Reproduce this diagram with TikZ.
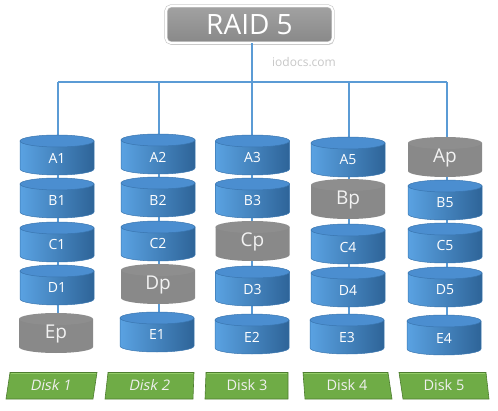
\documentclass[tikz,border=0pt]{standalone}
\usepackage{fontspec}
\setmainfont{Open Sans}
\usetikzlibrary{shadows,backgrounds}
\definecolor{cylL}{HTML}{5AA2E2}
\definecolor{cylR}{HTML}{2E6498}
\definecolor{cylTop}{HTML}{4B8ED0}
\definecolor{cylEdge}{HTML}{3A76B0}
\definecolor{parity}{HTML}{898989}
\definecolor{parityTop}{HTML}{8E8E8E}
\definecolor{wire}{HTML}{5B9BD5}
\definecolor{diskG}{HTML}{6FAC46}
\definecolor{diskHi}{HTML}{93CC68}
\definecolor{diskLo}{HTML}{4E7D30}
\definecolor{titleA}{HTML}{A2A2A2}
\definecolor{titleB}{HTML}{888888}
\tikzset{
  bluelbl/.style={text=white, font=\fontsize{14}{16}\selectfont, inner sep=0pt},
  graylbl/.style={text=white!95!black, font=\fontsize{19}{21}\selectfont, inner sep=0pt},
  wireline/.style={draw=wire, line width=1.6pt},
  disklbl/.style={text=white!94!black, font=\fontsize{14.5}{16}\selectfont, inner sep=0pt},
  diskbox/.style={fill=diskG, draw=diskLo, line width=0.6pt},
  diskhi/.style={draw=diskHi, line width=1pt},
}
\newcommand\bluecyl[4]{%
  \path[shade, left color=cylL, right color=cylR, draw=cylEdge, line width=0.5pt]
    ({#2-37},{404-#3}) -- ({#2-37},{376-#3})
    arc[start angle=180,end angle=360,x radius=37pt,y radius=6pt]
    -- ({#2+37},{404-#3}) -- cycle;
  \path[fill=cylTop, draw=cylEdge, line width=0.5pt] (#2,{404-#3}) ellipse[x radius=37pt, y radius=6pt];
  \node[bluelbl] (#1) at (#2,{387-#3}) {#4};
}
\newcommand\graycyl[4]{%
  \path[fill=parity]
    ({#2-37},{404-#3}) -- ({#2-37},{376-#3})
    arc[start angle=180,end angle=360,x radius=37pt,y radius=6pt]
    -- ({#2+37},{404-#3}) -- cycle;
  \path[fill=parityTop] (#2,{404-#3}) ellipse[x radius=37pt, y radius=6pt];
  \node[graylbl] (#1) at (#2,{389-#3}) {#4};
}
\begin{document}
\begin{tikzpicture}[x=1pt,y=1pt]
\useasboundingbox (0,0) rectangle (498,410);
% title
\node[draw=black!22, double=white, double distance=2pt, line width=0.6pt,
      rounded corners=5pt, top color=titleA, bottom color=titleB,
      minimum width=167pt, minimum height=37pt, inner sep=0pt,
      text=white, font=\fontsize{28}{30}\selectfont,
      drop shadow={opacity=0.35, shadow xshift=1pt, shadow yshift=-2pt}]
      (raid) at (249.5,385.5) {RAID 5};
\node[text=black!22, font=\fontsize{12}{14}\selectfont, inner sep=0pt] (wm) at (304,348) {iodocs.com};
% bus
\coordinate (hub) at (252,328);
\coordinate (b1) at (58,328);
\coordinate (b2) at (159,328);
\coordinate (b3) at (252,328);
\coordinate (b4) at (349,328);
\coordinate (b5) at (447,328);
\draw[wireline, line width=2pt] (b1) -- (b5);
\draw[wireline, line width=2pt] (hub |- raid.south) -- (hub);
% column 1
\bluecyl{c1a}{57}{135}{A1}
\bluecyl{c1b}{57}{178}{B1}
\bluecyl{c1c}{57}{222}{C1}
\bluecyl{c1d}{57}{265}{D1}
\graycyl{c1e}{56}{313}{Ep}
% column 2
\bluecyl{c2a}{158}{134}{A2}
\bluecyl{c2b}{158}{177}{B2}
\bluecyl{c2c}{158}{221}{C2}
\graycyl{c2d}{158}{264}{Dp}
\bluecyl{c2e}{157}{312}{E1}
% column 3
\bluecyl{c3a}{252.5}{135}{A3}
\bluecyl{c3b}{252.5}{178}{B3}
\graycyl{c3c}{252.5}{221}{Cp}
\bluecyl{c3d}{252.5}{266}{D3}
\bluecyl{c3e}{252}{314}{E2}
% column 4
\bluecyl{c4a}{348}{137}{A5}
\graycyl{c4b}{348}{179}{Bp}
\bluecyl{c4c}{348}{224}{C4}
\bluecyl{c4d}{348}{267}{D4}
\bluecyl{c4e}{347}{314}{E3}
% column 5
\graycyl{c5a}{445}{137}{Ap}
\bluecyl{c5b}{445}{180}{B5}
\bluecyl{c5c}{445}{223}{C5}
\bluecyl{c5d}{445}{267}{D5}
\bluecyl{c5e}{444}{315}{E4}
% spines behind
\begin{scope}[on background layer]
\draw[wireline, line width=1.4pt] (b1) -- (b1 |- c1e);
\draw[wireline, line width=1.4pt] (b2) -- (b2 |- c2e);
\draw[wireline, line width=1.4pt] (b3) -- (b3 |- c3e);
\draw[wireline, line width=1.4pt] (b4) -- (b4 |- c4e);
\draw[wireline, line width=1.4pt] (b5) -- (b5 |- c5e);
\end{scope}
% disk labels
\path[diskbox] (10,37.5) -- (97,37.5) -- (93,11) -- (6,11) -- cycle;
\draw[diskhi] (11,36.5) -- (96,36.5);
\node[disklbl, xslant=0.2] (d1) at (51.5,24.5) {Disk 1};
\path[diskbox] (108,37.5) -- (194,37.5) -- (193,11) -- (105,11) -- cycle;
\draw[diskhi] (109,36.5) -- (193,36.5);
\node[disklbl, xslant=0.2] (d2) at (150,24.5) {Disk 2};
\path[diskbox] (206,37.5) -- (288,37.5) -- (288,11) -- (205,11) -- cycle;
\draw[diskhi] (207,36.5) -- (287,36.5);
\node[disklbl] (d3) at (247,24.5) {Disk 3};
\path[diskbox] (303,37.5) -- (388,37.5) -- (392,11) -- (305,11) -- cycle;
\draw[diskhi] (304,36.5) -- (387,36.5);
\node[disklbl] (d4) at (347,24.5) {Disk 4};
\path[diskbox] (399,37.5) -- (486,37.5) -- (489,11) -- (403,11) -- cycle;
\draw[diskhi] (400,36.5) -- (485,36.5);
\node[disklbl] (d5) at (444,24.5) {Disk 5};
\end{tikzpicture}
\end{document}
